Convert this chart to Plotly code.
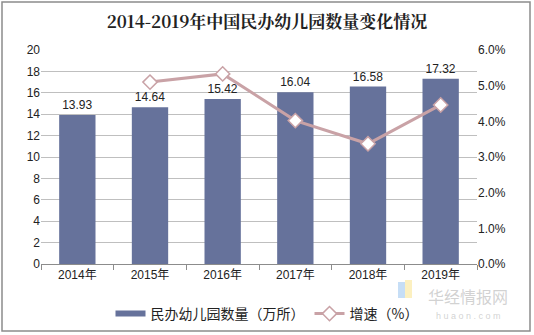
import plotly.graph_objects as go

years = ["2014年", "2015年", "2016年", "2017年", "2018年", "2019年"]
counts = [13.93, 14.64, 15.42, 16.04, 16.58, 17.32]
growth_years = ["2015年", "2016年", "2017年", "2018年", "2019年"]
growth = [5.10, 5.33, 4.02, 3.37, 4.46]
left_ticks = [0, 2, 4, 6, 8, 10, 12, 14, 16, 18, 20]
right_ticks = [0, 1, 2, 3, 4, 5, 6]
right_tick_labels = ["0.0%", "1.0%", "2.0%", "3.0%", "4.0%", "5.0%", "6.0%"]

W, H = 534, 335
ML, MR, MT, MB = 41, 57, 50, 71
PW, PH = W - ML - MR, H - MT - MB

def px(x):
    return (x - ML) / PW

def py(y):
    return (H - MB - y) / PH

font_main = "Arial, Liberation Sans, Noto Sans CJK SC, sans-serif"
bar_color = "#66729b"
line_color = "#c9a2a6"

fig = go.Figure()
fig.add_trace(go.Bar(
    x=years, y=counts, name="民办幼儿园数量（万所）", showlegend=False,
    marker=dict(color=bar_color, line=dict(width=0)),
    width=0.5,
    text=[f"{v:.2f}" for v in counts], textposition="outside",
    textfont=dict(size=12, color="#222222", family=font_main),
    cliponaxis=False,
))
# legend entry for bars drawn as a thick line swatch, as in the reference
fig.add_trace(go.Scatter(
    x=[None], y=[None], name="民办幼儿园数量（万所）", mode="lines",
    line=dict(color=bar_color, width=6),
))
fig.add_trace(go.Scatter(
    x=growth_years, y=growth, name="增速（%）", yaxis="y2",
    mode="lines+markers",
    line=dict(color=line_color, width=3),
    marker=dict(symbol="diamond", size=11, color="white",
                line=dict(color=line_color, width=1.5)),
))

fig.update_layout(
    width=W, height=H,
    margin=dict(l=ML, r=MR, t=MT, b=MB, autoexpand=False),
    paper_bgcolor="white", plot_bgcolor="white",
    title=dict(text="<b>2014-2019年中国民办幼儿园数量变化情况</b>",
               x=0.5, xanchor="center", y=1 - 22 / H, yanchor="middle",
               font=dict(size=17, color="#222222",
                         family="Noto Serif CJK SC, DejaVu Serif, Noto Sans CJK SC, serif")),
    bargap=0.5,
    showlegend=True,
    legend=dict(orientation="h", xref="container", yref="container",
                x=0.5, xanchor="center", y=1 - 314 / H, yanchor="middle",
                font=dict(size=14, color="#222222", family="Noto Sans CJK SC, sans-serif"),
                itemwidth=30, traceorder="normal"),
    xaxis=dict(
        type="category", showline=True, linecolor="#8c8c8c", linewidth=1,
        ticks="outside", ticklen=5, tickcolor="#8c8c8c", tickson="boundaries",
        showgrid=False, tickfont=dict(size=12, color="#222222", family=font_main),
    ),
    yaxis=dict(
        range=[0, 20], tickvals=left_ticks, showgrid=True, gridcolor="#bfbfbf", gridwidth=1,
        showline=False, zeroline=False, ticks="", ticklen=0,
        tickfont=dict(size=12, color="#222222", family=font_main),
    ),
    yaxis2=dict(
        range=[0, 6], tickvals=right_ticks, ticktext=right_tick_labels,
        overlaying="y", side="right", showgrid=False, zeroline=False, showline=False,
        tickfont=dict(size=12, color="#222222", family=font_main),
    ),
    shapes=[
        dict(type="rect", xref="paper", yref="paper",
             x0=px(2), x1=px(530), y0=py(331), y1=py(2),
             line=dict(color="#8c8c8c", width=1.5), fillcolor="rgba(0,0,0,0)", layer="above"),
        dict(type="rect", xref="paper", yref="paper",
             x0=px(398), x1=px(405), y0=py(305), y1=py(282),
             line=dict(width=0), fillcolor="rgba(160,200,240,0.6)"),
        dict(type="rect", xref="paper", yref="paper",
             x0=px(405), x1=px(412), y0=py(300), y1=py(280),
             line=dict(width=0), fillcolor="rgba(250,230,150,0.6)"),
    ],
    annotations=[
        dict(text="华经情报网", xref="paper", yref="paper", x=px(468), y=py(296),
             xanchor="center", yanchor="middle", showarrow=False,
             font=dict(size=16, color="rgba(180,180,180,0.6)", family="Noto Sans CJK SC")),
        dict(text="h u a o n . c o m", xref="paper", yref="paper", x=px(468), y=py(316),
             xanchor="center", yanchor="middle", showarrow=False,
             font=dict(size=9, color="rgba(180,180,180,0.6)", family=font_main)),
    ],
)

fig.write_html("out.html")
